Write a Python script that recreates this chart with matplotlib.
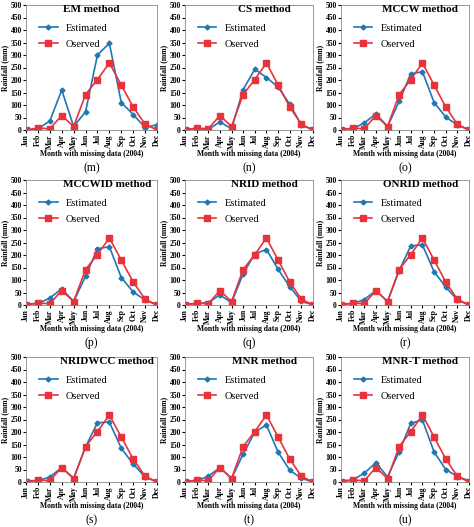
import matplotlib
matplotlib.use("Agg")
import matplotlib.pyplot as plt

months = ["Jan","Feb","Mar","Apr","May","Jun","Jul","Aug","Sep","Oct","Nov","Dec"]
observed = [0, 8, 5, 58, 14, 142, 202, 268, 180, 92, 23, 0]
titles = ["EM method","CS method","MCCW method","MCCWID method","NRID method",
          "ONRID method","NRIDWCC method","MNR method","MNR-T method"]
labels = ["(m)","(n)","(o)","(p)","(q)","(r)","(s)","(t)","(u)"]
est_em      = [0, 5, 36, 160, 14, 73, 300, 347, 110, 62, 10, 21]
est_cs      = [5, 5, 3, 32, 5, 162, 243, 210, 172, 103, 20, 0]
est_mccw    = [5, 5, 28, 65, 14, 115, 225, 233, 110, 52, 20, 0]
est_mccwid  = [5, 5, 28, 65, 14, 115, 225, 233, 110, 52, 20, 0]
est_nrid    = [3, 5, 10, 40, 10, 125, 205, 222, 143, 73, 15, 0]
est_onrid   = [5, 5, 22, 58, 14, 138, 237, 240, 133, 72, 20, 0]
est_nridwcc = [5, 5, 20, 58, 14, 140, 237, 240, 135, 72, 20, 0]
est_mnr     = [5, 5, 23, 58, 14, 112, 200, 228, 120, 47, 15, 0]
est_mnrt    = [5, 8, 35, 78, 20, 122, 235, 248, 120, 50, 22, 5]
estimates = [est_em, est_cs, est_mccw, est_mccwid, est_nrid, est_onrid,
             est_nridwcc, est_mnr, est_mnrt]

plt.rcParams['font.family'] = ['Liberation Serif', 'DejaVu Serif']
W, H = 474, 527
fig = plt.figure(figsize=(W/100, H/100), dpi=100)
lefts = [26, 185, 341]
widths = [131, 128, 128]
tops = [5, 180, 357]
ht = 125
for i in range(9):
    r, c = divmod(i, 3)
    ax = fig.add_axes([lefts[c]/W, 1-(tops[r]+ht)/H, widths[c]/W, ht/H])
    x = range(12)
    ax.plot(x, estimates[i], color="#1f77b4", marker="D", ms=2.5, lw=1.2, label="Estimated")
    ax.plot(x, observed, color="#e8323c", marker="s", ms=4, lw=1.2, label="Oserved")
    ax.set_ylim(0, 500)
    ax.set_xlim(0, 11)
    ax.set_yticks(range(0, 501, 50))
    ax.set_xticks(list(x))
    ax.set_xticklabels(months, rotation=90, fontsize=5.5, fontweight="bold")
    ax.tick_params(axis="y", labelsize=5.5, length=2, pad=1)
    for t in ax.get_yticklabels():
        t.set_fontweight("bold")
    ax.tick_params(axis="x", length=2, pad=1)
    ax.set_ylabel("Rainfall (mm)", fontsize=5.5, fontweight="bold", labelpad=1)
    ax.set_xlabel("Month with missing data (2004)", fontsize=5.5, fontweight="bold", labelpad=1)
    ax.set_title(titles[i], fontsize=8, fontweight="bold", y=0.88, x=0.62 if i != 0 else 0.5)
    ax.legend(loc="upper left", bbox_to_anchor=(0.05, 0.9), frameon=False, fontsize=7.5,
              handlelength=1.8, labelspacing=0.6, borderaxespad=0.2)
    for s in ax.spines.values():
        s.set_color("#888888"); s.set_linewidth(0.6)
    fig.text((lefts[c]+widths[c]/2)/W, 1-(tops[r]+ht+38)/H, labels[i], ha="center",
             va="center", fontsize=8.5)
fig.savefig("out.png", dpi=100)
